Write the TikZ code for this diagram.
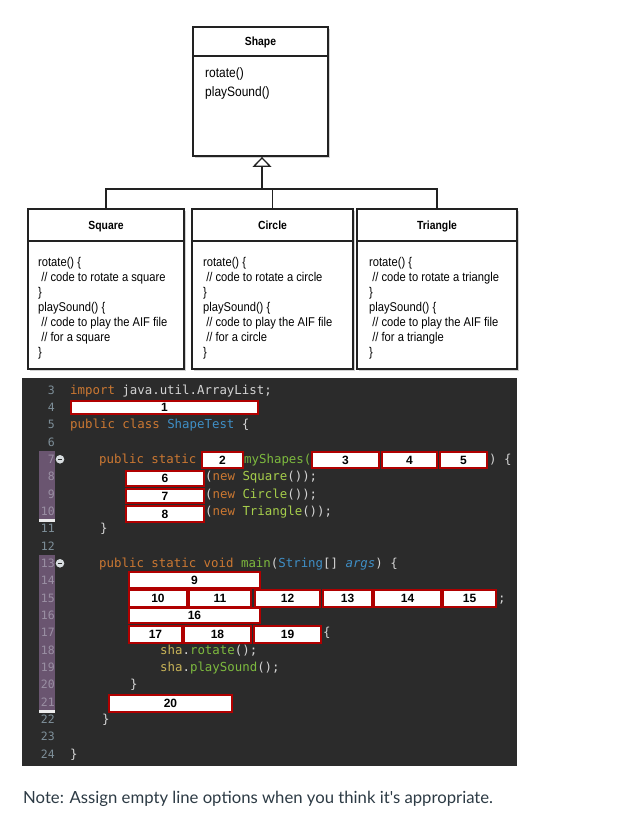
\documentclass[tikz,border=0pt]{standalone}
\usepackage{fontspec}
\setmainfont{Liberation Sans}
\newfontfamily\umlfont[FakeStretch=0.88]{Liberation Sans}
\newfontfamily\codefont{DejaVu Sans Mono}
\newfontfamily\notefont{Lato}
\usetikzlibrary{shadows,arrows.meta}
\definecolor{codebg}{HTML}{2B2B2B}
\definecolor{kw}{HTML}{CC7832}
\definecolor{cls}{HTML}{3F8FC6}
\definecolor{fn}{HTML}{7DBA3E}
\definecolor{typ}{HTML}{A6CE4B}
\definecolor{plain}{HTML}{D4D4D4}
\definecolor{shav}{HTML}{C9B458}
\definecolor{lnum}{HTML}{7E8F99}
\definecolor{lnumh}{HTML}{9A8FA3}
\definecolor{gutter}{HTML}{6A5570}
\definecolor{ansred}{HTML}{B00000}
\definecolor{notec}{HTML}{2D3B45}
\definecolor{umlline}{HTML}{222222}
\tikzset{
  umlbox/.style={draw=umlline, line width=1.9pt, fill=white, inner sep=0pt,
    drop shadow={shadow xshift=1.6pt, shadow yshift=-1.6pt, opacity=0.35}},
  umlsep/.style={draw=umlline, line width=1.2pt},
  conn/.style={draw=umlline, line width=1.3pt},
  umlhead/.style={font=\umlfont\bfseries\fontsize{11.8}{13}\selectfont, inner sep=0pt, anchor=base},
  umltext/.style={font=\umlfont\fontsize{12.7}{15}\selectfont, inner sep=0pt, anchor=base west},
  shtext/.style={font=\umlfont\fontsize{13.6}{16}\selectfont, inner sep=0pt, anchor=base west},
  code/.style={font=\codefont\fontsize{12.4}{14}\selectfont, text=plain, inner sep=0pt, anchor=base west},
  lno/.style={font=\codefont\fontsize{11.5}{13}\selectfont, inner sep=0pt, anchor=base east},
  ansbox/.style={draw=ansred, line width=1.7pt, fill=white, inner sep=0pt,
    font=\bfseries\fontsize{12}{12}\selectfont, text=black},
  notetext/.style={font=\notefont\fontsize{16.7}{19}\selectfont, text=notec, inner sep=0pt, anchor=base west}
}
% box: name, x1, y1, x2, y2, label
\newcommand\abox[6]{%
  \node[ansbox, minimum width={(#4-#2)*1pt}, minimum height={(#5-#3)*1pt}]
    (#1) at ({(#2+#4)/2},{(#3+#5)/2}) {\raisebox{-0.5pt}{#6}};}
\newcommand\ubox[5]{%
  \node[umlbox, minimum width={(#4-#2)*1pt}, minimum height={(#5-#3)*1pt}]
    (#1) at ({(#2+#4)/2},{(#3+#5)/2}) {};}
\begin{document}
\begin{tikzpicture}[x=1pt,y=-1pt]
\useasboundingbox (0,0) rectangle (636,828);
\fill[white] (0,0) rectangle (636,828);

% ---------- UML ----------
\ubox{sh}{193}{27}{328}{156}
\draw[umlsep] (193,56) -- (328,56);
\node[umlhead] (shn) at (260.5,45.5) {Shape};
\node[shtext] (sh1) at (205,77.5) {rotate()};
\node[shtext] (sh2) at (205,96) {playSound()};

\ubox{sq}{28}{209}{184}{369}
\ubox{ci}{192}{209}{353}{369}
\ubox{tr}{357}{209}{517}{369}
\foreach \a/\b in {28/184,192/353,357/517}{
  \draw[umlsep] (\a,241) -- (\b,241);
}
\node[umlhead] (sqn) at (106,229) {Square};
\node[umlhead] (cin) at (272.5,229) {Circle};
\node[umlhead] (trn) at (437,229) {Triangle};

\foreach \x/\s in {38/square,203/circle,369/triangle}{
  \node[umltext] at (\x,266) {rotate() \{};
  \node[umltext] at (\x,281) {\ // code to rotate a \s};
  \node[umltext] at (\x,296) {\}};
  \node[umltext] at (\x,311) {playSound() \{};
  \node[umltext] at (\x,326) {\ // code to play the AIF file};
  \node[umltext] at (\x,341) {\ // for a \s};
  \node[umltext] at (\x,356) {\}};
}

\coordinate (j) at (262,189);
\draw[conn, -{Triangle[open, length=10pt, width=19pt, line width=1.3pt]}] (j) -- (j |- sh.south);
\draw[conn] (sq.north) |- (j) -| (tr.north);
\draw[conn] (ci.north) -- (ci.north |- j);

% ---------- code area ----------
\fill[codebg] (22,378) rectangle (517,766);
\fill[gutter] (39,451) rectangle (55,520);
\fill[gutter] (39,555) rectangle (55,711);
\fill[white!85!gray] (39,519) rectangle (55,521.5);
\fill[white!85!gray] (39,710) rectangle (55,712.5);

\foreach \n in {3,...,24}{
  \pgfmathsetmacro\yy{390+(\n-3)*17.33+4.3}
  \ifnum\n<7 \node[lno, text=lnum] at (55,\yy) {\n};\else
  \ifnum\n<11 \node[lno, text=lnumh] at (55,\yy) {\n};\else
  \ifnum\n<13 \node[lno, text=lnum] at (55,\yy) {\n};\else
  \ifnum\n<22 \node[lno, text=lnumh] at (55,\yy) {\n};\else
  \node[lno, text=lnum] at (55,\yy) {\n};\fi\fi\fi\fi
}
\foreach \yy in {459.3,563.3}{
  \fill[white!70!lnum] (60,\yy) circle (4.3);
  \draw[codebg, line width=1pt] (57.6,\yy) -- (62.4,\yy);
}

\node[code] (c3) at (70,394.3) {\textcolor{kw}{import} java.util.ArrayList;};
\node[code] (c5) at (70,428.9) {\textcolor{kw}{public class} \textcolor{cls}{ShapeTest} \{};
\node[code] (c7a) at (99,463.5) {\textcolor{kw}{public static}};
\node[code] (c7b) at (244,463.5) {\textcolor{fn}{myShapes(}};
\node[code] (c7c) at (489,463.5) {) \{};
\node[code] (c8) at (205,480.9) {(\textcolor{kw}{new} \textcolor{typ}{Square}());};
\node[code] (c9) at (205,498.2) {(\textcolor{kw}{new} \textcolor{typ}{Circle}());};
\node[code] (c10) at (205,515.5) {(\textcolor{kw}{new} \textcolor{typ}{Triangle}());};
\node[code] (c11) at (100,532.9) {\}};
\node[code] (c13) at (99,567.5) {\textcolor{kw}{public static void} \textcolor{fn}{main}(\textcolor{cls}{String}[] \textcolor{cls}{\itshape args}) \{};
\node[code] (c15) at (498,602.2) {;};
\node[code] (c17) at (323,636.9) {\{};
\node[code] (c18) at (160,654.2) {\textcolor{shav}{sha}.\textcolor{fn}{rotate}();};
\node[code] (c19) at (160,671.5) {\textcolor{shav}{sha}.\textcolor{fn}{playSound}();};
\node[code] (c20) at (130,688.9) {\}};
\node[code] (c22) at (102,723.5) {\}};
\node[code] (c24) at (70,758.2) {\}};

% ---------- answer boxes ----------
\abox{b1}{71}{401}{258}{414}{1}
\abox{b2}{202}{452}{243}{468}{2}
\abox{b3}{312}{452}{379}{468}{3}
\abox{b4}{382}{452}{437}{468}{4}
\abox{b5}{440}{452}{487}{468}{5}
\abox{b6}{126}{471}{204}{486}{6}
\abox{b7}{126}{489}{204}{503}{7}
\abox{b8}{126}{506}{204}{522}{8}
\abox{b9}{129}{572}{260}{588}{9}
\abox{b10}{129}{590}{187}{607}{10}
\abox{b11}{189}{590}{251}{607}{11}
\abox{b12}{255}{590}{320}{607}{12}
\abox{b13}{323}{590}{372}{607}{13}
\abox{b14}{374}{590}{441}{607}{14}
\abox{b15}{443}{590}{496}{607}{15}
\abox{b16}{129}{608}{260}{623}{16}
\abox{b17}{129}{626}{182}{643}{17}
\abox{b18}{184}{626}{251}{643}{18}
\abox{b19}{254}{626}{321}{643}{19}
\abox{b20}{109}{695}{232}{712}{20}

% ---------- note ----------
\node[notetext] (note) at (23,803) {Note: Assign empty line options when you think it's appropriate.};
\end{tikzpicture}
\end{document}
